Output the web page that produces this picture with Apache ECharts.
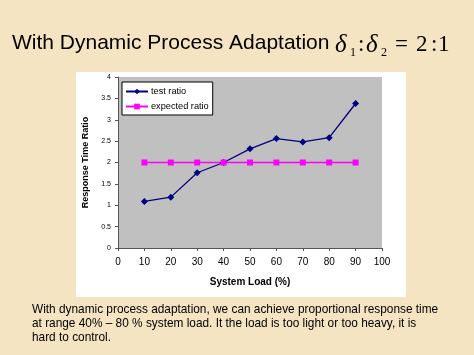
<!DOCTYPE html>
<html><head><meta charset="utf-8">
<script src="https://cdn.jsdelivr.net/npm/echarts@6/dist/echarts.min.js"></script>
<style>html,body{margin:0;padding:0;background:#f4e4c1;}#c{width:474px;height:355px;}</style>
</head><body><div id="c"></div>
<script>
const loads = [10, 20, 30, 40, 50, 60, 70, 80, 90];
const testRatio = [1.09, 1.19, 1.76, 2.0, 2.32, 2.56, 2.48, 2.58, 3.38];
const expectedRatio = [2, 2, 2, 2, 2, 2, 2, 2, 2];
const seriesNames = ['test ratio', 'expected ratio'];
const titleText = 'With Dynamic Process Adaptation';
const captionLines = [
  'With dynamic process adaptation, we can achieve proportional response time',
  'at range 40% \u2013 80 % system load. It the load is too light or too heavy, it is',
  'hard to control.'
];

const chart = echarts.init(document.getElementById('c'), null, {renderer: 'canvas'});
const font = 'Arial, "Liberation Sans", sans-serif';
const serif = '"Times New Roman", "Liberation Serif", serif';
const mathParts = [
  {t: '\u03b4', x: 335, y: 45, s: 25, it: true},
  {t: '1', x: 350, y: 53, s: 12},
  {t: ':', x: 358, y: 45, s: 23},
  {t: '\u03b4', x: 366, y: 45, s: 25, it: true},
  {t: '2', x: 381, y: 53, s: 12},
  {t: '=', x: 395, y: 45, s: 23},
  {t: '2', x: 416, y: 45, s: 23},
  {t: ':', x: 431, y: 45, s: 23},
  {t: '1', x: 438, y: 45, s: 23}
];
const graphics = [
  {type: 'rect', silent: true, z: -10, shape: {x: 76, y: 72, width: 330, height: 225}, style: {fill: '#ffffff'}},
  {type: 'text', left: 12, top: 33, style: {text: titleText, font: '21px ' + font, fill: '#000'}}
];
mathParts.forEach(p => graphics.push({type: 'text', x: p.x, y: p.y, style: {text: p.t, font: (p.it ? 'italic ' : '') + p.s + 'px ' + serif, fill: '#000', textVerticalAlign: 'middle'}}));
captionLines.forEach((l, i) => graphics.push({type: 'text', left: 32, top: 304 + i * 13.8, style: {text: l, font: '11.85px ' + font, fill: '#000'}}));

chart.setOption({
  backgroundColor: '#f4e4c1',
  animation: false,
  graphic: graphics,
  grid: {left: 118, right: 92, top: 77, bottom: 107, show: true, backgroundColor: '#c0c0c0', borderWidth: 0},
  legend: {
    data: seriesNames, orient: 'vertical', left: 122, top: 82,
    backgroundColor: '#ffffff', borderColor: '#000', borderWidth: 1,
    padding: [5, 4, 4, 3], itemGap: 6, itemWidth: 22, itemHeight: 7,
    textStyle: {fontFamily: font, fontSize: 9.2, color: '#000', padding: [0, 0, 0, -2]}
  },
  xAxis: {
    type: 'value', min: 0, max: 100, interval: 10,
    name: 'System Load (%)', nameLocation: 'middle', nameGap: 29,
    nameTextStyle: {fontFamily: font, fontSize: 10, fontWeight: 'bold', color: '#000'},
    axisLine: {lineStyle: {color: '#555'}}, axisTick: {show: true, length: 3},
    axisLabel: {fontFamily: font, fontSize: 10, color: '#000', margin: 9},
    splitLine: {show: false}
  },
  yAxis: {
    type: 'value', min: 0, max: 4, interval: 0.5,
    name: 'Response Time Ratio', nameLocation: 'middle', nameGap: 15,
    nameTextStyle: {fontFamily: font, fontSize: 9, fontWeight: 'bold', color: '#000'},
    axisLine: {show: true, lineStyle: {color: '#555'}}, axisTick: {show: true, length: 3},
    axisLabel: {fontFamily: font, fontSize: 7, color: '#000', margin: 7},
    splitLine: {show: false}
  },
  series: [
    {name: seriesNames[0], type: 'line', data: loads.map((x, i) => [x, testRatio[i]]),
     symbol: 'diamond', symbolSize: 7, color: '#000080', lineStyle: {width: 1.3, color: '#000080'}, itemStyle: {color: '#000080'}},
    {name: seriesNames[1], type: 'line', data: loads.map((x, i) => [x, expectedRatio[i]]),
     symbol: 'rect', symbolSize: 6, color: '#ff00ff', lineStyle: {width: 1.3, color: '#ff00ff'}, itemStyle: {color: '#ff00ff'}}
  ]
});
</script></body></html>
